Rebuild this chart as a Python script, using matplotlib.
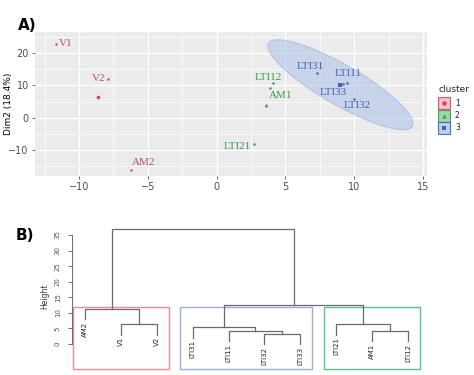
import numpy as np
import matplotlib
matplotlib.use("Agg")
import matplotlib.pyplot as plt
from matplotlib.patches import Rectangle, Polygon

# ---- A) cluster plot data (read from picture)
names = ['V1', 'V2', 'AM2', 'LTI12', 'AM1', 'LTI21', 'LTI31', 'LTI11', 'LTI33', 'LTI32']
dim1 = [-11.7, -7.9, -6.2, 4.1, 3.9, 2.7, 7.3, 9.5, 9.2, 10.0]
dim2 = [22.8, 12.0, -16.0, 10.8, 9.2, -8.0, 13.8, 10.8, 10.4, 5.8]
cluster = [1, 1, 1, 2, 2, 2, 3, 3, 3, 3]

# ---- B) dendrogram data
leaf_order = ['AM2', 'V1', 'V2', 'LTI31', 'LTI11', 'LTI32', 'LTI33', 'LTI21', 'AM1', 'LTI12']
# (left, right, height); ints refer to earlier merges
merges = [('V1', 'V2', 6.4), ('AM2', 0, 11.3),
          ('LTI32', 'LTI33', 3.3), ('LTI11', 2, 4.2), ('LTI31', 3, 5.4),
          ('AM1', 'LTI12', 4.3), ('LTI21', 5, 6.3),
          (4, 6, 12.5), (1, 7, 36.9)]
group_sizes = [3, 4, 3]

cols = {1: '#C84A62', 2: '#3A9A50', 3: '#4262B2'}
light = {1: '#F4B9C0', 2: '#8FD3A0', 3: '#B7C9EE'}
markers = {1: 'o', 2: '^', 3: 's'}
# label offsets in pixels (dx, dy, ha)
offs = {'V1': (3, 0, 'left'), 'V2': (-3, 0, 'right'), 'AM2': (12, 7, 'center'),
        'LTI12': (-5, 5, 'center'), 'AM1': (10, -8, 'center'), 'LTI21': (-16, -3, 'center'),
        'LTI31': (-7, 7, 'center'), 'LTI11': (1, 9, 'center'), 'LTI33': (-10, -8, 'center'),
        'LTI32': (3, -7, 'center')}

W, H = 474, 375
fig = plt.figure(figsize=(W / 100, H / 100), dpi=100)

# ================= A) =================
ax = fig.add_axes([35 / W, 1 - 176 / H, 392 / W, 144 / H])
xlim = (-13.2, 15.29)
ylim = (-18.0, 26.5)
ax.set_xlim(xlim)
ax.set_ylim(ylim)
ax.set_facecolor('#EBEBEB')
for s in ax.spines.values():
    s.set_visible(False)
ax.set_xticks([-10, -5, 0, 5, 10, 15])
ax.set_yticks([-10, 0, 10, 20])
ax.set_xticks(np.arange(-12.5, 15.1, 5), minor=True)
ax.set_yticks([-15, -5, 5, 15, 25], minor=True)
ax.grid(True, which='major', color='white', lw=1.0)
ax.grid(True, which='minor', color='white', lw=0.5)
ax.set_axisbelow(True)
ax.tick_params(which='major', labelsize=7, colors='#4D4D4D', length=2.5, width=0.6, pad=2)
ax.tick_params(which='minor', length=0)
ax.set_ylabel('Dim2 (18.4%)', fontsize=6.5, va='center')
ax.yaxis.set_label_coords(-(35 - 9) / 392, 0.5)

d1 = np.array(dim1)
d2 = np.array(dim2)
cl = np.array(cluster)

# ellipse around cluster 3 (drawn in pixel space, mapped back)
sx = 392 / (xlim[1] - xlim[0])
sy = 144 / (ylim[1] - ylim[0])
cx, cy = d1[cl == 3].mean(), d2[cl == 3].mean()
a_px, b_px, th = 83, 20, np.deg2rad(-30)
t = np.linspace(0, 2 * np.pi, 200)
ex = a_px * np.cos(t) * np.cos(th) - b_px * np.sin(t) * np.sin(th)
ey = a_px * np.cos(t) * np.sin(th) + b_px * np.sin(t) * np.cos(th)
ax.add_patch(Polygon(np.c_[cx + ex / sx, cy + ey / sy], closed=True,
                     facecolor='#A9C0E8', alpha=0.55, edgecolor='#94AEDF', lw=0.8, zorder=1))

for k in [1, 2, 3]:
    m = cl == k
    ax.scatter(d1[m], d2[m], s=0.6, color=cols[k], zorder=3)
    ax.scatter(d1[m].mean(), d2[m].mean(), s=7, marker=markers[k], color=cols[k], zorder=3, lw=0)

for n, x, y, c in zip(names, dim1, dim2, cluster):
    dx, dy, ha = offs[n]
    ax.annotate(n, (x, y), xytext=(dx * 0.72, dy * 0.72), textcoords='offset points',
                ha=ha, va='center', fontsize=8, family='Liberation Serif',
                color=cols[c], zorder=4)

# legend (pixel overlay)
ov = fig.add_axes([0, 0, 1, 1])
ov.set_xlim(0, W)
ov.set_ylim(H, 0)
ov.axis('off')
ov.patch.set_alpha(0)
ov.text(439, 89, 'cluster', fontsize=6.5, ha='left', va='center', color='#222222')
for i, k in enumerate([1, 2, 3]):
    yc = 103 + i * 12.5
    ov.add_patch(Rectangle((438, yc - 6), 12, 12, facecolor=light[k], edgecolor=cols[k],
                           lw=0.8, alpha=0.9))
    ov.scatter([444], [yc], s=10, marker=markers[k], color=cols[k], lw=0)
    ov.text(455, yc, str(k), fontsize=5.5, ha='left', va='center', color='#222222')

ov.text(18, 25, 'A)', fontsize=11, fontweight='bold', ha='left', va='center')
ov.text(16, 236, 'B)', fontsize=11, fontweight='bold', ha='left', va='center')

# ================= B) =================
bx = fig.add_axes([72 / W, 1 - 369 / H, (421 - 72) / W, (369 - 223.5) / H])
n_leaf = len(leaf_order)
bx.set_xlim(1 - 0.04 * (n_leaf - 1), n_leaf + 0.04 * (n_leaf - 1))
bx.set_ylim(-8.0, 38.7)
bx.patch.set_alpha(0)
for s in ['top', 'right', 'bottom']:
    bx.spines[s].set_visible(False)
bx.spines['left'].set_bounds(0, 35)
bx.spines['left'].set_color('#555555')
bx.spines['left'].set_linewidth(0.6)
bx.set_xticks([])
bx.set_yticks(np.arange(0, 36, 5))
bx.tick_params(axis='y', labelsize=5, length=3, width=0.6, colors='#555555', pad=5,
               labelrotation=90)
for lab in bx.get_yticklabels():
    lab.set_va('center')
bx.set_ylabel('Height', fontsize=5.5, labelpad=4, color='#333333')

heights = [m[2] for m in merges]
hang = 0.1 * (max(heights) - min(heights))
leaf_x = {nm: i + 1 for i, nm in enumerate(leaf_order)}
node_x = []
lc = '#6A6A6A'


def child_info(c, h):
    if isinstance(c, int):
        return node_x[c], merges[c][2]
    return leaf_x[c], h - hang


for left, right, h in merges:
    xl, yl = child_info(left, h)
    xr, yr = child_info(right, h)
    bx.plot([xl, xl, xr, xr], [yl, h, h, yr], color=lc, lw=0.9)
    for c, xc, yc in [(left, xl, yl), (right, xr, yr)]:
        if not isinstance(c, int):
            bx.text(xc, yc - 0.8, c, rotation=90, ha='center', va='top', fontsize=5,
                    color='#222222')
    node_x.append((xl + xr) / 2)

# rect.hclust style boxes
top = np.mean(sorted(heights)[-3:-1])
edges = np.concatenate([[0], np.cumsum(group_sizes)])
box_cols = ['#EC8A96', '#9AAED8', '#5CC187']
for i in range(len(group_sizes)):
    x0 = edges[i] + 0.66
    x1 = edges[i + 1] + 0.33
    bx.add_patch(Rectangle((x0, -8.0), x1 - x0, top + 8.0, fill=False,
                           edgecolor=box_cols[i], lw=1.0, clip_on=False))

fig.savefig('out.png', dpi=100)
